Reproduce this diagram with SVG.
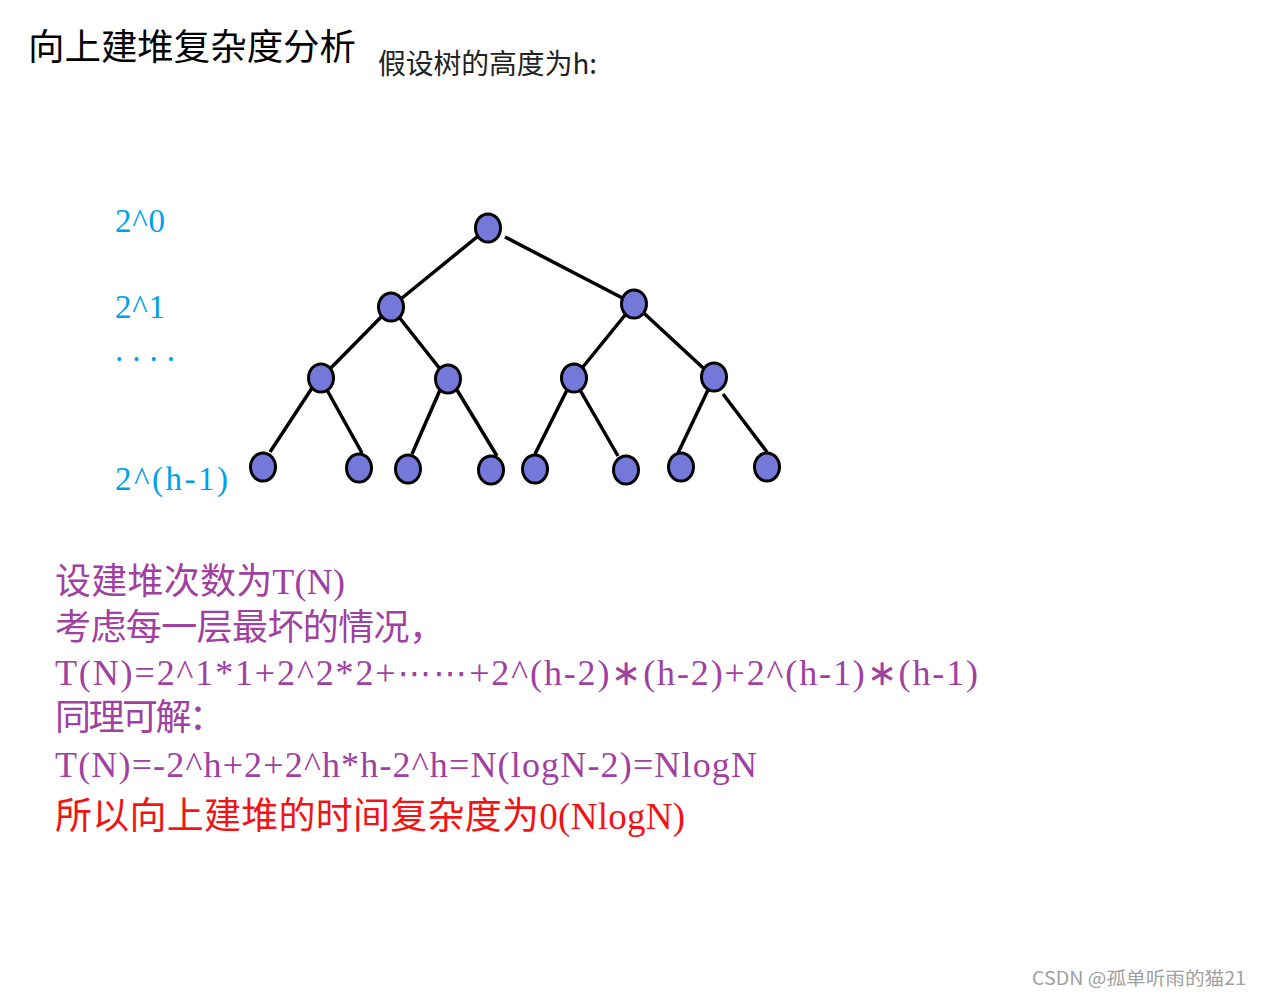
<svg xmlns="http://www.w3.org/2000/svg" width="1262" height="997" viewBox="0 0 1262 997">
<style>
.node{fill:#7479D9;stroke:#000;stroke-width:3}
.edge{stroke:#000;stroke-width:3.5;stroke-linecap:butt}
.cjk{font-family:"Liberation Serif","Noto Sans CJK SC",serif}
.purple{fill:#A040A0;font-size:36px}
.blue{fill:#00A0E9;font-size:33px;font-family:"Liberation Serif",serif}
.red{fill:#F01414;font-size:37px}
</style>
<rect width="1262" height="997" fill="#fff"/>
<g id="texts">
<text x="28" y="60" font-family="Noto Sans CJK SC, sans-serif" font-size="36" fill="#000" textLength="328" lengthAdjust="spacingAndGlyphs">向上建堆复杂度分析</text>
<text x="378" y="74" font-family="Noto Sans CJK SC, sans-serif" font-size="28" fill="#222" textLength="219" lengthAdjust="spacingAndGlyphs">假设树的高度为h:</text>
<text class="blue" x="115" y="232" textLength="50">2^0</text>
<text class="blue" x="115" y="318" textLength="50">2^1</text>
<text class="blue" x="115" y="361" textLength="60">....</text>
<text class="blue" x="115" y="490" textLength="113">2^(h-1)</text>
<text class="cjk purple" x="55" y="594" textLength="290">设建堆次数为T(N)</text>
<text class="cjk purple" x="55" y="640" textLength="390">考虑每一层最坏的情况，</text>
<text class="cjk purple" x="55" y="685" textLength="923">T(N)=2^1*1+2^2*2+<tspan style="font-family:'DejaVu Sans',sans-serif;font-size:34px">⋯⋯</tspan>+2^(h-2)∗(h-2)+2^(h-1)∗(h-1)</text>
<text class="cjk purple" x="55" y="730" textLength="170">同理可解：</text>
<text class="cjk purple" x="55" y="777" textLength="702">T(N)=-2^h+2+2^h*h-2^h=N(logN-2)=NlogN</text>
<text class="cjk red" x="55" y="829" textLength="630">所以向上建堆的时间复杂度为0(NlogN)</text>
<text x="1032" y="985" font-family="Noto Sans CJK SC, sans-serif" font-size="18" fill="#A0A0A0" textLength="214" lengthAdjust="spacingAndGlyphs">CSDN @孤单听雨的猫21</text>
</g>
<g id="connectors">
<line class="edge" x1="488" y1="228" x2="391" y2="307"/>
<line class="edge" x1="505" y1="237" x2="634" y2="304"/>
<line class="edge" x1="391" y1="307" x2="321" y2="378"/>
<line class="edge" x1="391" y1="307" x2="448" y2="379"/>
<line class="edge" x1="634" y1="304" x2="574" y2="378"/>
<line class="edge" x1="634" y1="304" x2="714" y2="378"/>
<line class="edge" x1="312" y1="388" x2="270" y2="452"/>
<line class="edge" x1="327" y1="390" x2="362" y2="453"/>
<line class="edge" x1="440" y1="390" x2="412" y2="454"/>
<line class="edge" x1="457" y1="390" x2="497" y2="456"/>
<line class="edge" x1="567" y1="390" x2="535" y2="454"/>
<line class="edge" x1="580" y1="390" x2="618" y2="456"/>
<line class="edge" x1="708" y1="390" x2="678" y2="453"/>
<line class="edge" x1="723" y1="394" x2="767" y2="452"/>
</g>
<g id="n0"><ellipse class="node" cx="488" cy="228" rx="12.5" ry="14"/></g>
<g id="n1"><ellipse class="node" cx="391" cy="307" rx="12.5" ry="14"/></g>
<g id="n2"><ellipse class="node" cx="634" cy="304" rx="12.5" ry="14"/></g>
<g id="n3"><ellipse class="node" cx="321" cy="378" rx="12.5" ry="14"/></g>
<g id="n4"><ellipse class="node" cx="448" cy="379" rx="12.5" ry="14"/></g>
<g id="n5"><ellipse class="node" cx="574" cy="378" rx="12.5" ry="14"/></g>
<g id="n6"><ellipse class="node" cx="714" cy="377" rx="12.5" ry="14"/></g>
<g id="n7"><ellipse class="node" cx="263" cy="467" rx="12.5" ry="14"/></g>
<g id="n8"><ellipse class="node" cx="359" cy="468" rx="12.5" ry="14"/></g>
<g id="n9"><ellipse class="node" cx="408" cy="469" rx="12.5" ry="14"/></g>
<g id="n10"><ellipse class="node" cx="491" cy="470" rx="12.5" ry="14"/></g>
<g id="n11"><ellipse class="node" cx="535" cy="469" rx="12.5" ry="14"/></g>
<g id="n12"><ellipse class="node" cx="626" cy="470" rx="12.5" ry="14"/></g>
<g id="n13"><ellipse class="node" cx="681" cy="467" rx="12.5" ry="14"/></g>
<g id="n14"><ellipse class="node" cx="767" cy="467" rx="12.5" ry="14"/></g>
</svg>
